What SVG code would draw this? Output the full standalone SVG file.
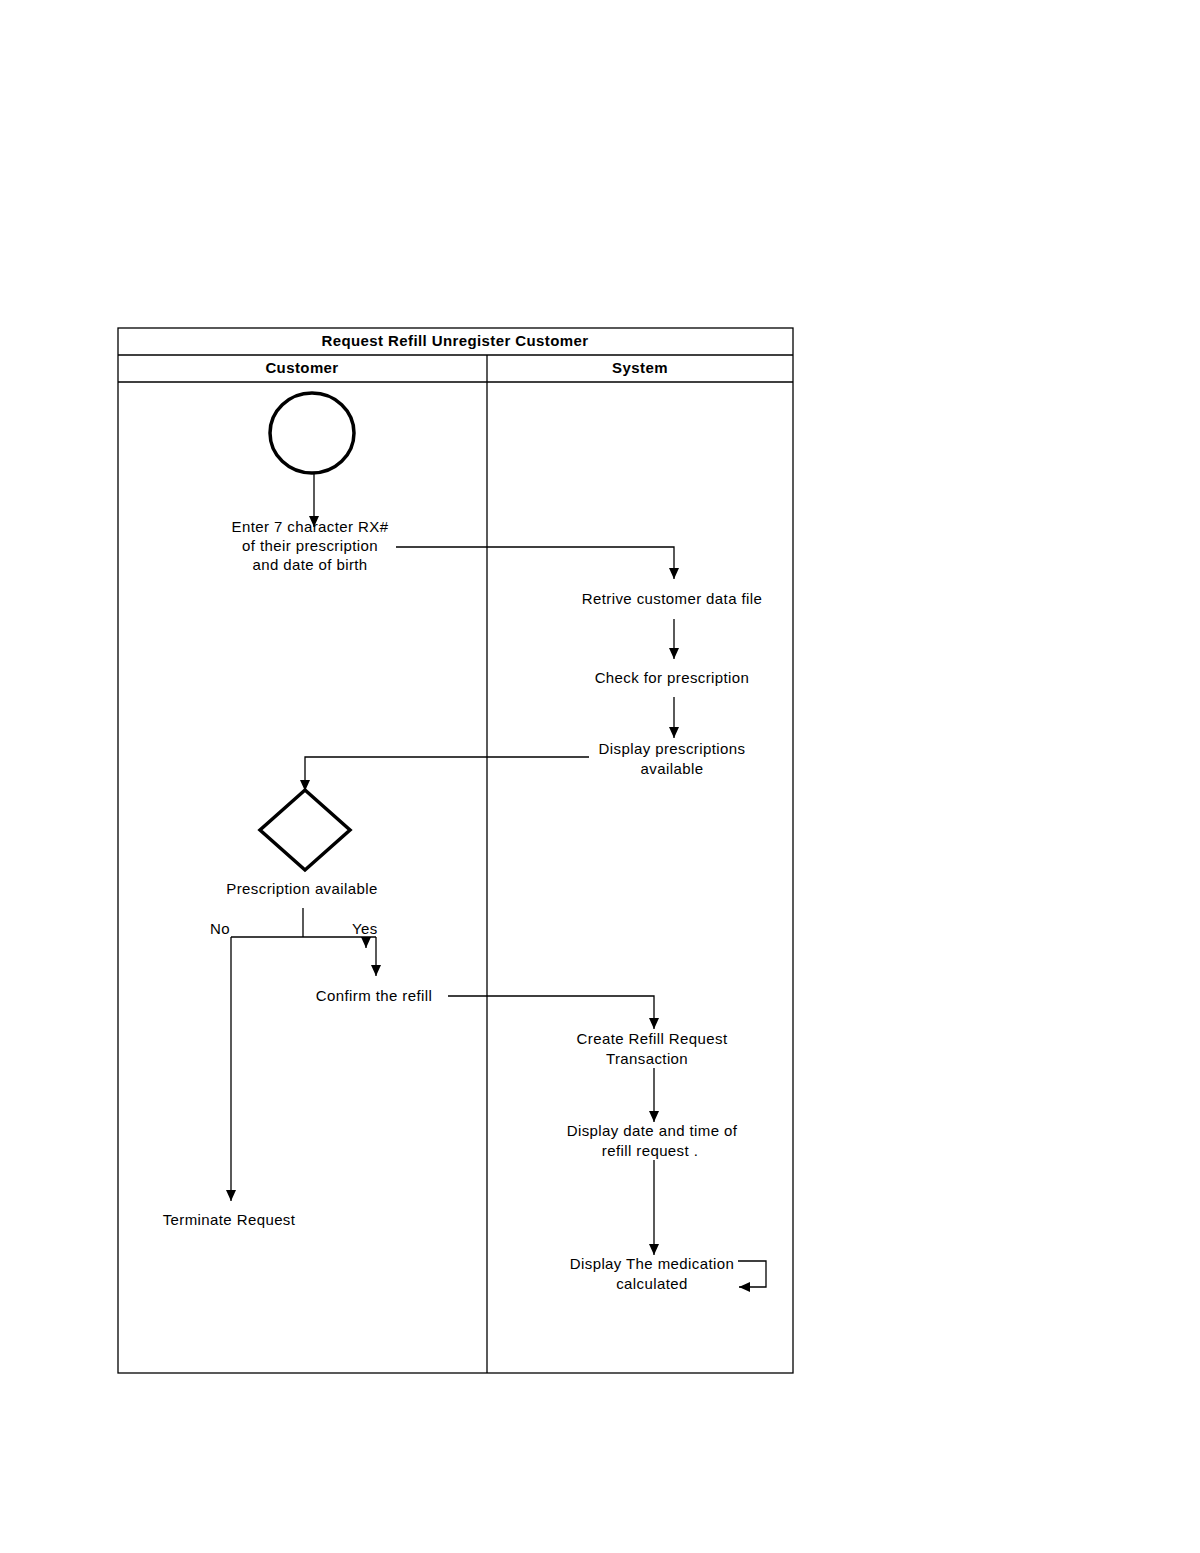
<svg xmlns="http://www.w3.org/2000/svg" width="1200" height="1553" viewBox="0 0 1200 1553">
<style>
text{font-family:"Liberation Sans",Arial,sans-serif;font-size:15px;letter-spacing:0.4px;fill:#000}
.h{font-weight:bold}
.c{text-anchor:middle}
.frame{fill:none;stroke:#000;stroke-width:1.3}
.ln{fill:none;stroke:#000;stroke-width:1.3}
.shape{fill:#fff;stroke:#000;stroke-width:3.5}
</style>
<defs>
<marker id="ah" markerWidth="12" markerHeight="12" refX="11" refY="5.5" orient="auto" markerUnits="userSpaceOnUse">
<path d="M0,0.5 L11,5.5 L0,10.5 Z" fill="#000"/>
</marker>
</defs>
<rect width="1200" height="1553" fill="#fff"/>
<g id="swimlane">
<rect class="frame" x="118" y="328" width="675" height="1045"/>
<line class="frame" x1="118" y1="355" x2="793" y2="355"/>
<line class="frame" x1="118" y1="382" x2="793" y2="382"/>
<line class="frame" x1="487" y1="355" x2="487" y2="1373"/>
<text class="h c" x="455" y="346">Request Refill Unregister Customer</text>
<text class="h c" x="302" y="373">Customer</text>
<text class="h c" x="640" y="373">System</text>
</g>
<g id="connectors">
<line class="ln" x1="314" y1="474" x2="314" y2="527" marker-end="url(#ah)"/>
<polyline class="ln" points="396,547 674,547 674,579" marker-end="url(#ah)"/>
<line class="ln" x1="674" y1="619" x2="674" y2="659" marker-end="url(#ah)"/>
<line class="ln" x1="674" y1="697" x2="674" y2="738" marker-end="url(#ah)"/>
<polyline class="ln" points="589,757 305,757 305,791" marker-end="url(#ah)"/>
<line class="ln" x1="303" y1="908" x2="303" y2="937"/>
<line class="ln" x1="231" y1="937" x2="376" y2="937"/>
<line class="ln" x1="366" y1="937" x2="366" y2="948" marker-end="url(#ah)"/>
<line class="ln" x1="376" y1="937" x2="376" y2="976" marker-end="url(#ah)"/>
<line class="ln" x1="231" y1="937" x2="231" y2="1201" marker-end="url(#ah)"/>
<polyline class="ln" points="448,996 654,996 654,1029" marker-end="url(#ah)"/>
<line class="ln" x1="654" y1="1068" x2="654" y2="1122" marker-end="url(#ah)"/>
<line class="ln" x1="654" y1="1160" x2="654" y2="1255" marker-end="url(#ah)"/>
<polyline class="ln" points="738,1261 766,1261 766,1287 739,1287" marker-end="url(#ah)"/>
</g>
<g id="start">
<ellipse class="shape" cx="312" cy="433" rx="42" ry="40"/>
</g>
<g id="enter">
<text class="c" x="310" y="532">Enter 7 character RX#</text>
<text class="c" x="310" y="551">of their prescription</text>
<text class="c" x="310" y="570">and date of birth</text>
</g>
<g id="retrieve">
<text class="c" x="672" y="604">Retrive customer data file</text>
</g>
<g id="check">
<text class="c" x="672" y="683">Check for prescription</text>
</g>
<g id="display-prescriptions">
<text class="c" x="672" y="754">Display prescriptions</text>
<text class="c" x="672" y="774">available</text>
</g>
<g id="decision">
<polygon class="shape" points="305,790 350,830 305,870 260,830"/>
<text class="c" x="302" y="894">Prescription available</text>
<text x="210" y="934">No</text>
<text x="352" y="934">Yes</text>
</g>
<g id="confirm">
<text class="c" x="374" y="1001">Confirm the refill</text>
</g>
<g id="terminate">
<text class="c" x="229" y="1225">Terminate Request</text>
</g>
<g id="create">
<text class="c" x="652" y="1044">Create Refill Request</text>
<text class="c" x="647" y="1064">Transaction</text>
</g>
<g id="display-date">
<text class="c" x="652" y="1136">Display date and time of</text>
<text class="c" x="650" y="1156">refill request .</text>
</g>
<g id="display-medication">
<text class="c" x="652" y="1269">Display The medication</text>
<text class="c" x="652" y="1289">calculated</text>
</g>
</svg>
